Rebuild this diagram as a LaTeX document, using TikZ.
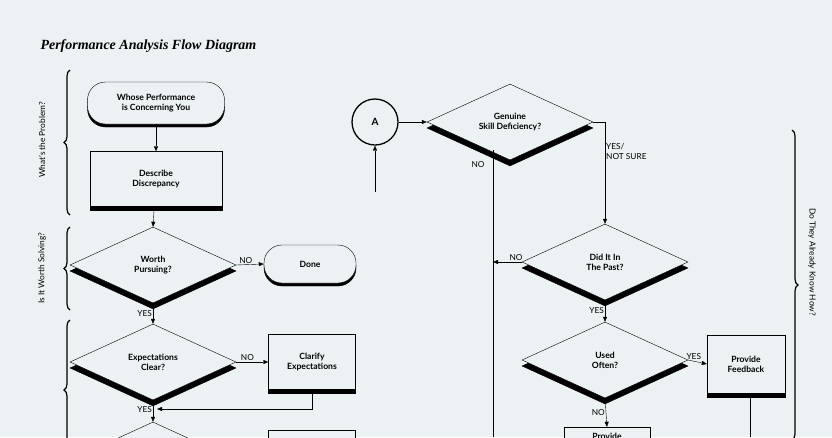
\documentclass[tikz,border=0pt]{standalone}
\usepackage{fontspec}
\setmainfont{Lato}
\newfontfamily\titlefont{Liberation Serif}
\usetikzlibrary{shapes.geometric,shadows,arrows.meta,decorations.pathreplacing}
\definecolor{bg}{HTML}{ECF1F3}
\begin{document}
\begin{tikzpicture}[x=1pt,y=-1pt,
  every node/.style={font=\fontsize{8.6}{10}\selectfont\bfseries, align=center},
  lab/.style={font=\fontsize{8.3}{9.5}\selectfont, inner sep=1pt},
  dia/.style={diamond, draw, fill=bg, inner sep=0pt, minimum width=166pt, minimum height=76pt, aspect=2.2,
     copy shadow={shadow xshift=0pt, shadow yshift=-6pt, fill=black, draw=black}},
  box/.style={rectangle, draw, fill=bg, minimum width=87pt, minimum height=55pt,
     copy shadow={shadow xshift=0pt, shadow yshift=-4pt, fill=black, draw=black}},
  term/.style={rectangle, rounded corners=18pt, draw, fill=bg, minimum height=42pt,
     copy shadow={shadow xshift=0pt, shadow yshift=-3pt, fill=black, draw=black}},
  arr/.style={-{Triangle[length=5pt,width=4pt]}, thin},
  brc/.style={decorate, decoration={brace, amplitude=6pt}, line width=1.2pt},
  side/.style={font=\fontsize{8.3}{9.5}\selectfont}]
\fill[bg] (0,0) rectangle (832,437);
\useasboundingbox (0,0) rectangle (832,437);
\clip (0,0) rectangle (832,437);
\node[anchor=west, font=\titlefont\fontsize{14}{16}\selectfont\bfseries\itshape] (title) at (37,46) {Performance Analysis Flow Diagram};
% left column
\node[term, minimum width=137pt] (start) at (156,103) {Whose Performance\\is Concerning You};
\node[box, minimum width=132pt, minimum height=55pt] (desc) at (156,179) {Describe\\Discrepancy};
\node[dia] (worth) at (153,265) {Worth\\Pursuing?};
\node[term, minimum width=92pt, minimum height=38pt] (done) at (310,264) {Done};
\node[dia] (expect) at (153,362) {Expectations\\Clear?};
\node[box] (clarify) at (312,362) {Clarify\\Expectations};
\node[dia] (next) at (153,460) {};
\node[box] (nextbox) at (312,458) {};
\coordinate (retend) at (157,409);
\draw[arr] (start) -- (desc);
\draw[arr] (desc) -- (worth.north);
\draw[arr] (worth.east) -- node[lab, above, pos=0.35] {NO} (done.west);
\draw[arr] (worth.south) -- node[lab, left, pos=0.5] {YES} (expect.north);
\draw[arr] (expect.east) -- node[lab, above, pos=0.35] {NO} (clarify.west);
\draw[arr] (clarify.south) |- (retend);
\draw[arr] (expect.south) -- node[lab, left, pos=0.45] {YES} (next.north);
% braces
\draw[brc] (70,215) -- (70,70);
\draw[brc] (70,310) -- (70,227);
\draw[brc] (70,460) -- (70,320);
\node[side, rotate=90] (q1) at (42,140) {What's the Problem?};
\node[side, rotate=90] (q2) at (42,268) {Is It Worth Solving?};
% right part
\node[circle, draw, line width=1.3pt, minimum size=46pt, fill=bg, font=\fontsize{10}{11}\selectfont\bfseries] (A) at (375,122) {A};
\coordinate (Ain) at (375,192);
\draw[arr] (Ain) -- (A.south);
\node[dia] (skill) at (510,122) {Genuine\\Skill Deficiency?};
\draw[arr] (A.east) -- (skill.west);
\node[dia] (past) at (605,262) {Did It In\\The Past?};
\node[dia] (used) at (605,360) {Used\\Often?};
\node[box, minimum width=78pt, minimum height=58pt] (feed) at (746,364) {Provide\\Feedback};
\node[box, minimum width=86pt, minimum height=58pt, text depth=40pt] (prov) at (607,456) {Provide};
\coordinate (noline) at (493,437);
\coordinate (nojoin) at (493,262);
\coordinate (feedend) at (750,437);
\draw[arr] (skill.east) -| node[lab, right, anchor=north west, pos=0.6, align=left] {YES/\\NOT SURE} (past.north);
\draw (493,150) -- (noline);
\node[lab] (nolab) at (478,165) {NO};
\draw[arr] (past.west) -- node[lab, above, pos=0.2] {NO} (nojoin);
\draw[arr] (past.south) -- node[lab, left] {YES} (used.north);
\draw[arr] (used.east) -- node[lab, above, pos=0.3] {YES} (feed.west);
\draw[arr] (used.south) -- node[lab, left] {NO} (prov.north);
\draw (feed.south -| feedend) -- (feedend);
\draw[brc] (792,130) -- (792,440);
\node[side, rotate=-90] (q3) at (812,262) {Do They Already Know How?};
\end{tikzpicture}
\end{document}
